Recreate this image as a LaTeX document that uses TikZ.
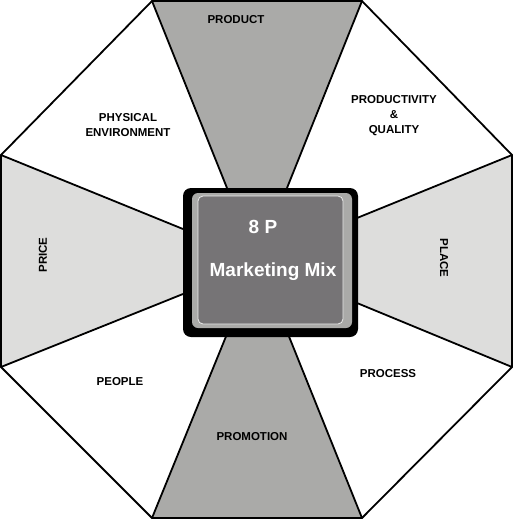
\documentclass[tikz,border=0pt]{standalone}
\usepackage{fontspec}
\setmainfont{Liberation Sans}
\definecolor{midgray}{RGB}{170,170,168}
\definecolor{lightgray}{RGB}{221,221,220}
\definecolor{darkgray}{RGB}{118,116,118}
\tikzset{
  label/.style={font=\bfseries\fontsize{11.5}{15}\selectfont, align=center, inner sep=0pt},
  title/.style={font=\bfseries\fontsize{19}{22}\selectfont, text=white, inner sep=0pt},
  edge/.style={line width=1.8pt, line join=miter}
}
\begin{document}
\begin{tikzpicture}[x=1pt,y=-1pt]
  \useasboundingbox (0,0) rectangle (513,520);
  % octagon corners
  \coordinate (o1) at (152,1);
  \coordinate (o2) at (362,1);
  \coordinate (o3) at (512,155);
  \coordinate (o4) at (512,367);
  \coordinate (o5) at (362,518);
  \coordinate (o6) at (152,518);
  \coordinate (o7) at (1,367);
  \coordinate (o8) at (1,155);
  % where the spokes meet the square
  \coordinate (a1) at (227,188);
  \coordinate (a2) at (287,188);
  \coordinate (a3) at (357,218);
  \coordinate (a4) at (357,303);
  \coordinate (a5) at (288,334);
  \coordinate (a6) at (227,334);
  \coordinate (a7) at (183,294);
  \coordinate (a8) at (183,229);
  \fill[white] (o1) -- (o2) -- (o3) -- (o4) -- (o5) -- (o6) -- (o7) -- (o8) -- cycle;
  \fill[midgray] (o1) -- (o2) -- (a2) -- (a1) -- cycle;
  \fill[midgray] (o5) -- (o6) -- (a6) -- (a5) -- cycle;
  \fill[lightgray] (o3) -- (o4) -- (a4) -- (a3) -- cycle;
  \fill[lightgray] (o7) -- (o8) -- (a8) -- (a7) -- cycle;
  \begin{scope}[edge]
    \draw (o1) -- (o2) -- (o3) -- (o4) -- (o5) -- (o6) -- (o7) -- (o8) -- cycle;
    \draw (o1) to (a1);
    \draw (o2) to (a2);
    \draw (o3) to (a3);
    \draw (o4) to (a4);
    \draw (o5) to (a5);
    \draw (o6) to (a6);
    \draw (o7) to (a7);
    \draw (o8) to (a8);
  \end{scope}
  % centre box
  \fill[black, rounded corners=8pt] (183,188) rectangle (358,337);
  \fill[midgray, rounded corners=6pt] (192,193) rectangle (352,328);
  \filldraw[fill=darkgray, draw=white!85!gray, line width=0.8pt, rounded corners=5pt] (198,196) rectangle (343,324);
  \node[title] (eightp) at (263,227) {8 P};
  \node[title] (mix) at (273,272) {Marketing Mix};
  % sector labels
  \node[label] (product) at (236,20) {PRODUCT};
  \node[label] (quality) at (394,116) {PRODUCTIVITY\\\&\\QUALITY};
  \node[label, rotate=-90] (place) at (444,258) {PLACE};
  \node[label] (process) at (388,374) {PROCESS};
  \node[label] (promotion) at (252,437) {PROMOTION};
  \node[label] (people) at (120,382) {PEOPLE};
  \node[label, rotate=90] (price) at (43,255) {PRICE};
  \node[label] (physical) at (128,125) {PHYSICAL\\ENVIRONMENT};
\end{tikzpicture}
\end{document}
